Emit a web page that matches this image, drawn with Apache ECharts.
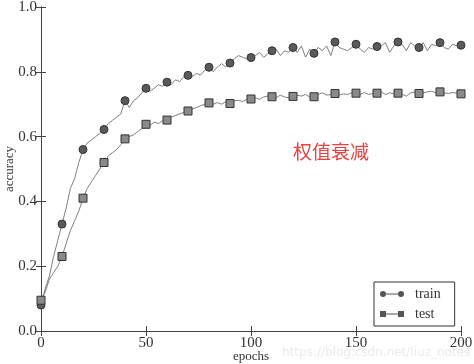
<!DOCTYPE html>
<html><head><meta charset="utf-8">
<script src="https://cdn.jsdelivr.net/npm/echarts@6/dist/echarts.min.js"></script>
<style>html,body{margin:0;padding:0;background:#fff}#c{width:474px;height:364px}</style>
</head><body><div id="c"></div>
<script>
// epochs sampled every 2 epochs (0..200); markers drawn every 10 epochs
const epochs = [];
for (let e = 0; e <= 200; e += 2) epochs.push(e);
const trainAcc = [
0.08,0.13,0.17,0.23,0.28,0.33,0.38,0.44,0.47,0.52,
0.56,0.58,0.59,0.60,0.61,0.622,0.64,0.65,0.66,0.67,
0.711,0.69,0.71,0.72,0.735,0.749,0.74,0.75,0.76,0.755,
0.768,0.76,0.775,0.77,0.785,0.789,0.785,0.795,0.79,0.805,
0.814,0.80,0.815,0.825,0.815,0.827,0.84,0.85,0.845,0.84,
0.844,0.85,0.86,0.845,0.855,0.865,0.87,0.85,0.865,0.86,
0.875,0.86,0.88,0.845,0.87,0.857,0.875,0.865,0.88,0.85,
0.892,0.875,0.87,0.865,0.875,0.885,0.87,0.86,0.875,0.87,
0.878,0.88,0.89,0.86,0.88,0.892,0.885,0.865,0.89,0.88,
0.875,0.89,0.865,0.885,0.88,0.89,0.875,0.87,0.885,0.88,
0.882];
const testAcc = [
0.095,0.12,0.16,0.18,0.20,0.23,0.27,0.31,0.34,0.37,
0.41,0.44,0.46,0.48,0.50,0.52,0.54,0.55,0.56,0.575,
0.593,0.60,0.605,0.615,0.625,0.638,0.635,0.645,0.64,0.65,
0.651,0.66,0.665,0.67,0.675,0.679,0.685,0.69,0.695,0.70,
0.704,0.70,0.705,0.70,0.708,0.702,0.71,0.712,0.708,0.715,
0.716,0.72,0.715,0.722,0.725,0.723,0.72,0.728,0.722,0.72,
0.724,0.728,0.725,0.73,0.722,0.723,0.73,0.735,0.728,0.73,
0.733,0.728,0.732,0.73,0.735,0.734,0.73,0.736,0.73,0.733,
0.734,0.738,0.73,0.735,0.733,0.734,0.73,0.725,0.735,0.738,
0.733,0.735,0.738,0.74,0.735,0.738,0.735,0.733,0.736,0.734,
0.732];
const xTicks = [0, 50, 100, 150, 200];
const yTicks = [0.0, 0.2, 0.4, 0.6, 0.8, 1.0];

const serif = '"Liberation Serif","DejaVu Serif",serif';
const axisCol = '#444';
const pairs = arr => epochs.map((e, i) => [e, arr[i]]);
const markEvery = (v, p) => (p.dataIndex % 5 === 0 ? 'circle' : 'none');
const markEverySq = (v, p) => (p.dataIndex % 5 === 0 ? 'rect' : 'none');

const circleIcon = 'path://M0,5a3,3 0 1,0 6,0a3,3 0 1,0 -6,0z M6,4.6h12v0.8h-12z M18,5a3,3 0 1,0 6,0a3,3 0 1,0 -6,0z';
const squareIcon = 'path://M0,2h6v6h-6z M6,4.6h12v0.8h-12z M18,2h6v6h-6z';

const baseAxis = {
  axisLine: {show: true, lineStyle: {color: axisCol, width: 1}},
  axisTick: {show: true, inside: true, length: 5, lineStyle: {color: axisCol}},
  splitLine: {show: false}
};

const chart = echarts.init(document.getElementById('c'), null, {renderer: 'canvas'});
chart.setOption({
  animation: false,
  backgroundColor: '#fff',
  grid: {left: 41, right: 13, top: 7, bottom: 33, containLabel: false, outerBoundsMode: 'none'},
  xAxis: [
    Object.assign({}, baseAxis, {type: 'value', min: 0, max: 200, interval: 50,
      name: 'epochs', nameLocation: 'middle', nameGap: 19, nameMoveOverlap: false,
      nameTextStyle: {fontFamily: serif, fontSize: 13, color: '#333'},
      axisLabel: {fontFamily: serif, fontSize: 15, color: '#333', margin: 5,
        formatter: v => xTicks.includes(v) ? String(v) : ''}}),
    Object.assign({}, baseAxis, {type: 'value', min: 0, max: 200, interval: 50, position: 'top',
      axisLabel: {show: false}})
  ],
  yAxis: [
    Object.assign({}, baseAxis, {type: 'value', min: 0, max: 1, interval: 0.2,
      name: 'accuracy', nameLocation: 'middle', nameGap: 25, nameRotate: 90, nameMoveOverlap: false,
      nameTextStyle: {fontFamily: serif, fontSize: 13, color: '#333'},
      axisLabel: {fontFamily: serif, fontSize: 15, color: '#333', margin: 4,
        formatter: v => yTicks.find(t => Math.abs(t - v) < 1e-6) !== undefined ? v.toFixed(1) : ''}}),
    Object.assign({}, baseAxis, {type: 'value', min: 0, max: 1, interval: 0.2, position: 'right',
      axisLabel: {show: false}})
  ],
  legend: {
    left: 374, top: 282, orient: 'vertical',
    padding: [5, 14, 5, 6], itemGap: 6,
    backgroundColor: '#fff', borderColor: '#333', borderWidth: 1, borderRadius: 0,
    itemWidth: 24, itemHeight: 10,
    textStyle: {fontFamily: serif, fontSize: 14, color: '#333', padding: [0, 0, 0, 6]},
    data: [
      {name: 'train', icon: circleIcon, itemStyle: {color: '#555', borderWidth: 0}},
      {name: 'test', icon: squareIcon, itemStyle: {color: '#555', borderWidth: 0}}
    ]
  },
  graphic: [
    {type: 'text', left: 293, top: 142, style: {text: '权值衰减', fill: '#e8423f',
      font: '19px "Noto Sans CJK SC"'}},
    {type: 'text', left: 282, top: 347, style: {text: 'https://blog.csdn.net/liuz_notes', fill: '#ebebeb',
      font: '12px "DejaVu Sans"'}}
  ],
  series: [
    {name: 'train', type: 'line', data: pairs(trainAcc), symbol: markEvery, symbolSize: 8, showSymbol: true,
      lineStyle: {color: '#808080', width: 1}, itemStyle: {color: '#5a5a5a', borderColor: '#333', borderWidth: 1},
      z: 3},
    {name: 'test', type: 'line', data: pairs(testAcc), symbol: markEverySq, symbolSize: 8, showSymbol: true,
      lineStyle: {color: '#808080', width: 1}, itemStyle: {color: '#8a8a8a', borderColor: '#333', borderWidth: 1},
      z: 3}
  ]
});
</script></body></html>
